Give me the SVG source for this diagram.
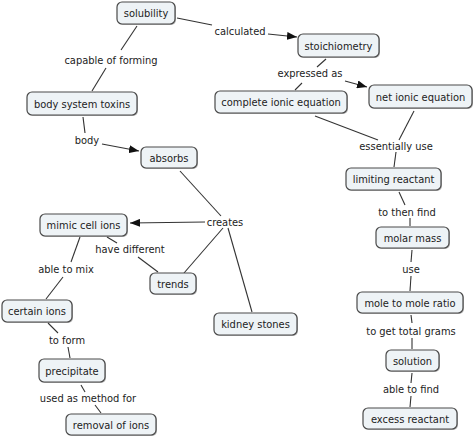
<svg xmlns="http://www.w3.org/2000/svg" width="474" height="436" viewBox="0 0 474 436">
<style>
.n rect.b{fill:#eef3f6;stroke:#4a4a4a;stroke-width:1.2}
.n rect.s{fill:#666;opacity:0.5}
text{font-family:"DejaVu Sans Condensed","DejaVu Sans","Liberation Sans",sans-serif;font-size:11px;fill:#222;text-anchor:middle}
.c line{stroke:#333;stroke-width:1.1}
</style>
<defs>
<marker id="a" markerWidth="10" markerHeight="8" refX="10" refY="4" orient="auto" markerUnits="userSpaceOnUse"><path d="M0,0L10,4L0,8z" fill="#111"/></marker>
</defs>
<rect width="474" height="436" fill="#fff"/>
<g class="c">
<line x1="177" y1="18" x2="212" y2="25"/>
<line x1="268" y1="34" x2="297" y2="37" marker-end="url(#a)"/>
<line x1="137" y1="26" x2="121" y2="50"/>
<line x1="106" y1="68" x2="92" y2="91"/>
<line x1="83" y1="117" x2="85" y2="133"/>
<line x1="102" y1="144" x2="139" y2="151" marker-end="url(#a)"/>
<line x1="326" y1="59" x2="317" y2="67"/>
<line x1="302" y1="83" x2="295" y2="90"/>
<line x1="345" y1="81" x2="367" y2="87" marker-end="url(#a)"/>
<line x1="315" y1="116" x2="378" y2="140"/>
<line x1="414" y1="111" x2="399" y2="140"/>
<line x1="396" y1="152" x2="394" y2="167"/>
<line x1="399" y1="192" x2="405" y2="205"/>
<line x1="410" y1="218" x2="410" y2="226"/>
<line x1="412" y1="250" x2="411" y2="262"/>
<line x1="411" y1="276" x2="410" y2="291"/>
<line x1="411" y1="315" x2="412" y2="323"/>
<line x1="412" y1="338" x2="412" y2="349"/>
<line x1="412" y1="373" x2="411" y2="383"/>
<line x1="411" y1="396" x2="410" y2="407"/>
<line x1="180" y1="171" x2="221" y2="216"/>
<line x1="205" y1="222" x2="130" y2="223" marker-end="url(#a)"/>
<line x1="223" y1="228" x2="184" y2="273"/>
<line x1="228" y1="228" x2="252" y2="312"/>
<line x1="107" y1="237" x2="117" y2="243"/>
<line x1="158" y1="272" x2="138" y2="257"/>
<line x1="80" y1="237" x2="71" y2="262"/>
<line x1="63" y1="277" x2="46" y2="299"/>
<line x1="48" y1="323" x2="58" y2="333"/>
<line x1="68" y1="347" x2="70" y2="358"/>
<line x1="81" y1="385" x2="85" y2="392"/>
<line x1="95" y1="405" x2="101" y2="413"/>
</g>
<g id="labels">
<text x="240" y="35">calculated</text>
<text x="111" y="64">capable of forming</text>
<text x="310" y="77">expressed as</text>
<text x="87" y="144">body</text>
<text x="396" y="150">essentially use</text>
<text x="407" y="216">to then find</text>
<text x="411" y="273">use</text>
<text x="411" y="335">to get total grams</text>
<text x="411" y="393">able to find</text>
<text x="225" y="226">creates</text>
<text x="130" y="253">have different</text>
<text x="66" y="273">able to mix</text>
<text x="67" y="344">to form</text>
<text x="88" y="402">used as method for</text>
</g>
<g id="solubility" class="n"><rect class="s" x="118" y="3" width="58" height="22" rx="5"/><rect class="b" x="117" y="2" width="58" height="22" rx="5"/><text x="146" y="17">solubility</text></g>
<g id="body-system-toxins" class="n"><rect class="s" x="28" y="93" width="110" height="23" rx="5"/><rect class="b" x="27" y="92" width="110" height="23" rx="5"/><text x="82" y="107.5">body system toxins</text></g>
<g id="stoichiometry" class="n"><rect class="s" x="299" y="35" width="81" height="23" rx="5"/><rect class="b" x="298" y="34" width="81" height="23" rx="5"/><text x="338.5" y="49.5">stoichiometry</text></g>
<g id="complete-ionic-equation" class="n"><rect class="s" x="216" y="92" width="132" height="22" rx="5"/><rect class="b" x="215" y="91" width="132" height="22" rx="5"/><text x="281" y="106">complete ionic equation</text></g>
<g id="net-ionic-equation" class="n"><rect class="s" x="370" y="86" width="103" height="23" rx="5"/><rect class="b" x="369" y="85" width="103" height="23" rx="5"/><text x="420.5" y="100.5">net ionic equation</text></g>
<g id="absorbs" class="n"><rect class="s" x="142" y="148" width="56" height="21" rx="5"/><rect class="b" x="141" y="147" width="56" height="21" rx="5"/><text x="169" y="161.5">absorbs</text></g>
<g id="mimic-cell-ions" class="n"><rect class="s" x="41" y="215" width="87" height="22" rx="5"/><rect class="b" x="40" y="214" width="87" height="22" rx="5"/><text x="83.5" y="229">mimic cell ions</text></g>
<g id="trends" class="n"><rect class="s" x="151" y="274" width="46" height="21" rx="5"/><rect class="b" x="150" y="273" width="46" height="21" rx="5"/><text x="173" y="287.5">trends</text></g>
<g id="kidney-stones" class="n"><rect class="s" x="215" y="314" width="83" height="22" rx="5"/><rect class="b" x="214" y="313" width="83" height="22" rx="5"/><text x="255.5" y="328">kidney stones</text></g>
<g id="limiting-reactant" class="n"><rect class="s" x="347" y="169" width="95" height="22" rx="5"/><rect class="b" x="346" y="168" width="95" height="22" rx="5"/><text x="393.5" y="183">limiting reactant</text></g>
<g id="molar-mass" class="n"><rect class="s" x="377" y="228" width="73" height="21" rx="5"/><rect class="b" x="376" y="227" width="73" height="21" rx="5"/><text x="412.5" y="241.5">molar mass</text></g>
<g id="mole-to-mole-ratio" class="n"><rect class="s" x="358" y="293" width="106" height="21" rx="5"/><rect class="b" x="357" y="292" width="106" height="21" rx="5"/><text x="410" y="306.5">mole to mole ratio</text></g>
<g id="solution" class="n"><rect class="s" x="387" y="351" width="53" height="21" rx="5"/><rect class="b" x="386" y="350" width="53" height="21" rx="5"/><text x="412.5" y="364.5">solution</text></g>
<g id="excess-reactant" class="n"><rect class="s" x="364" y="409" width="94" height="21" rx="5"/><rect class="b" x="363" y="408" width="94" height="21" rx="5"/><text x="410" y="422.5">excess reactant</text></g>
<g id="certain-ions" class="n"><rect class="s" x="3" y="301" width="70" height="22" rx="5"/><rect class="b" x="2" y="300" width="70" height="22" rx="5"/><text x="37" y="315">certain ions</text></g>
<g id="precipitate" class="n"><rect class="s" x="40" y="360" width="66" height="23" rx="5"/><rect class="b" x="39" y="359" width="66" height="23" rx="5"/><text x="72" y="374.5">precipitate</text></g>
<g id="removal-of-ions" class="n"><rect class="s" x="67" y="415" width="90" height="21" rx="5"/><rect class="b" x="66" y="414" width="90" height="21" rx="5"/><text x="111" y="428.5">removal of ions</text></g>
</svg>
